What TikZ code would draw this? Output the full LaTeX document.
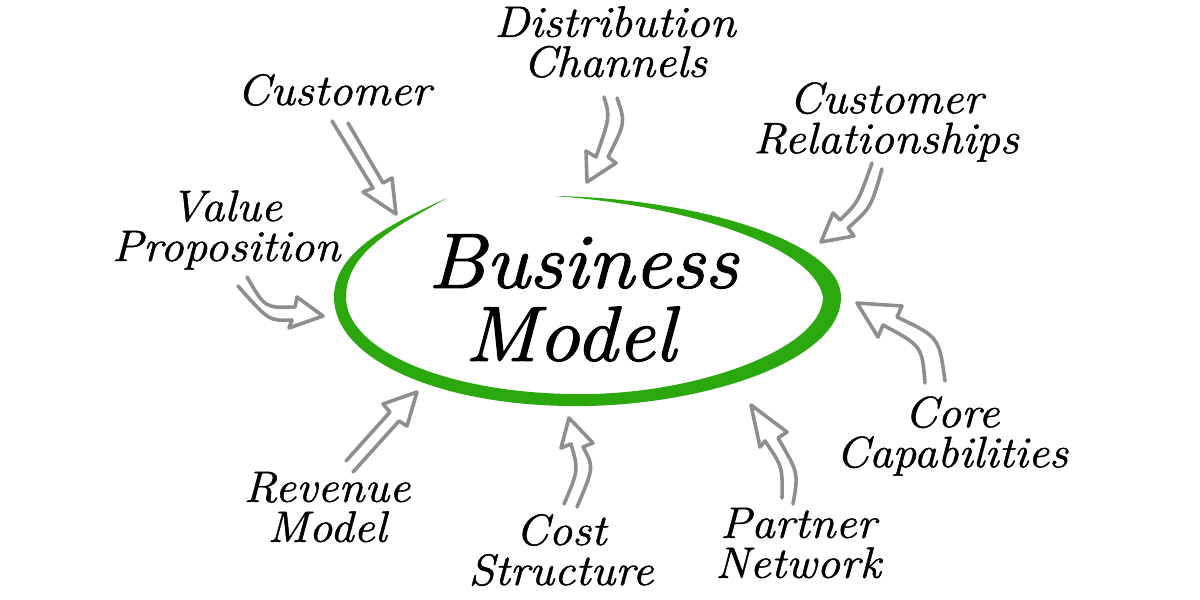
\documentclass[tikz,border=0pt]{standalone}
\usepackage{fontspec}
\newfontfamily\hand{Latin Modern Roman}[FakeBold=1.1,FakeStretch=1.07]
\newfontfamily\handbig{Latin Modern Roman}[FakeBold=1.6,FakeStretch=1.07]
\definecolor{ringgreen}{HTML}{2CA80F}
\definecolor{arrowgray}{HTML}{8E8E8E}
\tikzset{
  ink/.style={align=center,inner sep=0pt,text=black,font=\hand\fontsize{44}{40}\selectfont\itshape},
  title/.style={align=center,inner sep=0pt,text=black,font=\handbig\fontsize{78}{73}\selectfont\itshape},
  hollow/.style={draw=arrowgray,line width=3.6pt,line join=round,line cap=round}
}
\begin{document}
\begin{tikzpicture}[x=1pt,y=-1pt]
\useasboundingbox[fill=white] (0,0) rectangle (1200,600);
% ring
\fill[ringgreen] (555,196) .. controls (690,198) and (841,240) .. (841,297)
  .. controls (841,365) and (690,408) .. (570,406)
  .. controls (440,405) and (334,360) .. (334,297)
  .. controls (334,250) and (395,222) .. (447,198)
  .. controls (400,225) and (346,250) .. (346,297)
  .. controls (346,350) and (445,392) .. (570,394)
  .. controls (690,397) and (823,350) .. (823,297)
  .. controls (815,250) and (700,207) .. (555,196) -- cycle;
% labels
\node[title] (business) at (583,298) {Business\\Model\hspace*{26pt}};
\node[ink] (customer) at (334,90) {Customer};
\node[ink] (distribution) at (615,42) {Distribution\\Channels};
\node[ink] (relationships) at (886,122) {Customer\\Relationships};
\node[ink] (value) at (226,230) {Value\\Proposition};
\node[ink] (revenue) at (327,507) {Revenue\\Model};
\node[ink] (cost) at (561,550) {Cost\\Structure};
\node[ink] (partner) at (798,543) {Partner\\Network};
\node[ink] (core) at (952,436) {Core\\Capabilities};
% arrows
\draw[hollow] (332,121) -- (373,188) -- (363,192) -- (396,214) -- (392,178) -- (383,183) -- (348,123);
\draw[hollow] (238,286) .. controls (269,321) .. (292,320) -- (289,328) -- (323,316) -- (297,297) -- (295,307) .. controls (265,308) .. (247,277);
\draw[hollow] (604,97) .. controls (610,117) .. (596,157) -- (586,151) -- (587,182) -- (616,163) -- (608,157) .. controls (625.5,122.5) .. (617,98);
\draw[hollow] (872,163) .. controls (858,202.5) .. (840,220) -- (833,213) -- (821,242) -- (854,236) -- (848,228) .. controls (871,207.5) .. (882,169);
\draw[hollow] (925,383) .. controls (922,346) .. (883,325) -- (878,337) -- (857,303) -- (902,306) -- (897,317) .. controls (939,337) .. (945,381);
\draw[hollow] (346,461) -- (390,412) -- (383,404) -- (417,392) -- (407,426) -- (399,421) -- (353,472);
\draw[hollow] (564,504) .. controls (578.5,470) .. (571,444) -- (561,448) -- (569,418) -- (593,443) -- (583,447) .. controls (594,467) .. (577,507);
\draw[hollow] (782,498) .. controls (782.5,466.5) .. (765,441) -- (760,447) -- (751,405) -- (787,432) -- (778,438) .. controls (798.5,473) .. (793,504);
\end{tikzpicture}
\end{document}
